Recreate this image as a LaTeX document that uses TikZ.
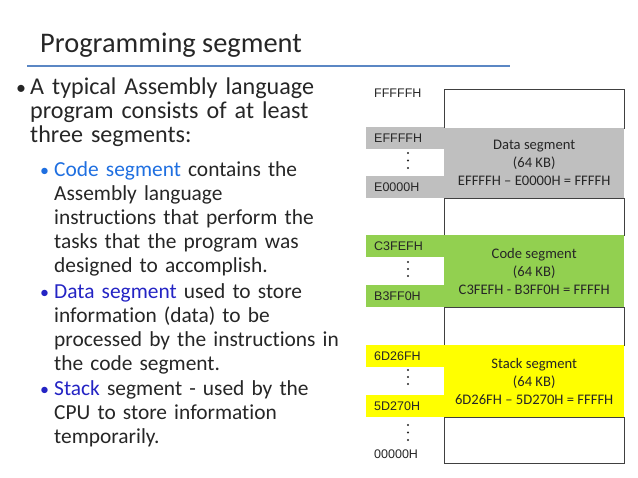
\documentclass[tikz,border=0pt]{standalone}
\usepackage{fontspec}
\setmainfont{Carlito}[Ligatures=NoCommon]
\newfontfamily\addrfont{Liberation Sans}
\usepackage{xcolor}
\definecolor{titleline}{RGB}{91,135,196}
\definecolor{codeblue}{RGB}{31,111,224}
\definecolor{darkblue}{RGB}{36,36,196}
\definecolor{seggray}{RGB}{191,191,191}
\definecolor{seggreen}{RGB}{146,208,80}
\definecolor{segyellow}{RGB}{255,255,0}
\definecolor{textgray}{RGB}{38,38,38}
\definecolor{boxline}{RGB}{64,64,64}
\newcommand{\bulA}{\llap{{\fontsize{20}{20}\selectfont\textbullet}\hspace{4pt}}}
\newcommand{\bulB}{\llap{{\fontsize{18}{18}\selectfont\textbullet}\hspace{5pt}}}

\begin{document}
\begin{tikzpicture}[x=1pt,y=-1pt,
  para/.style={anchor=base west,inner sep=0pt,align=left,text width=#1,text=textgray,
    font=\fontsize{24.1}{23.7}\selectfont},
  subpara/.style={para=#1,font=\fontsize{21.4}{23.8}\selectfont},
  blk/.style={anchor=north west,minimum width=180,minimum height=#1,inner sep=0pt,
    align=center,text=textgray,font=\fontsize{14.6}{18}\selectfont},
  freeblk/.style={blk=#1,draw=boxline,line width=0.9,fill=white},
  addr/.style={anchor=north west,minimum height=22,text width=62,inner xsep=8,inner ysep=0pt,
    text=textgray,font=\addrfont\fontsize{12.5}{14}\selectfont}]
\useasboundingbox (0,0) rectangle (638,478);
% Title
\node[anchor=base west,inner sep=0pt,text=textgray,font=\fontsize{28.4}{30}\selectfont] (title) at (40,53) {Programming segment};
\draw[titleline,line width=1.2] (27,66) -- (510,66);
% Bullet text
\node[para=320] (intro) at (30,95) {\bulA A typical Assembly language\\program consists of at least\\three segments:};
\node[subpara=320] (codetxt) at (54,177) {{\color{codeblue}\bulB Code segment} contains the\\Assembly language\\instructions that perform the\\tasks that the program was\\designed to accomplish.};
\node[subpara=320] (datatxt) at (54,299) {{\color{darkblue}\bulB Data segment} used to store\\information (data) to be\\processed by the instructions in\\the code segment.};
\node[subpara=320] (stacktxt) at (54,396) {{\color{darkblue}\bulB Stack} segment - used by the\\CPU to store information\\temporarily.};
% Address strips
\node[addr,fill=seggray] (efffffh) at (366,127) {EFFFFH};
\node[addr,fill=seggray] (e0000h) at (366,176) {E0000H};
\node[addr,fill=seggreen] (c3fefh) at (366,235) {C3FEFH};
\node[addr,fill=seggreen] (b3ff0h) at (366,285) {B3FF0H};
\node[addr,fill=segyellow] (d26fh) at (366,345) {6D26FH};
\node[addr,fill=segyellow] (d270h) at (366,395) {5D270H};
% Memory column
\node[freeblk=39] (free1) at (444,89) {};
\node[blk=70,fill=seggray] (dataseg) at (444,128) {Data segment\\(64 KB)\\EFFFFH -- E0000H = FFFFH};
\node[freeblk=37] (free2) at (444,198) {};
\node[blk=72,fill=seggreen] (codeseg) at (444,235) {Code segment\\(64 KB)\\C3FEFH - B3FF0H = FFFFH};
\node[freeblk=38] (free3) at (444,307) {};
\node[blk=72,fill=segyellow] (stackseg) at (444,345) {Stack segment\\(64 KB)\\6D26FH -- 5D270H = FFFFH};
\node[freeblk=46] (free4) at (444,417) {};
% Top and bottom addresses
\node[addr] (fffffh) at (366,82) {FFFFFH};
\node[addr] (zeroh) at (366,443) {00000H};
%Drawing dots to represent continuity of the addresses
\foreach \y in {153,160.5,168,262,269,276,370,377,384,425,432.5,440}
  \fill[textgray] (408,\y) circle (1.2pt);
\end{tikzpicture}
\end{document}
